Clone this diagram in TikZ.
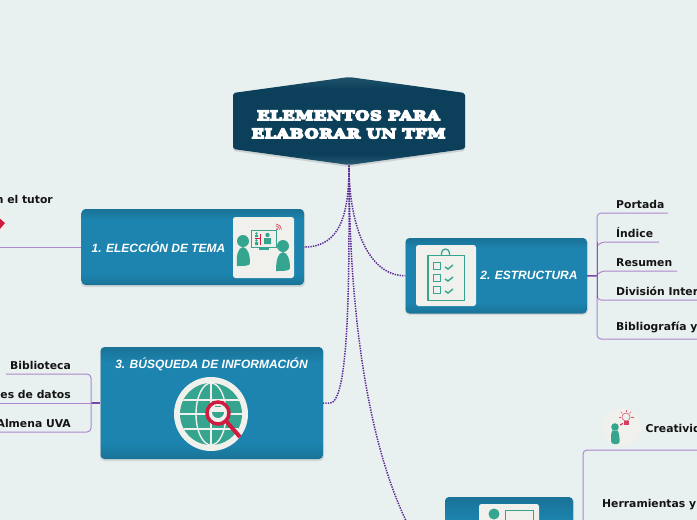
\documentclass[tikz,border=0pt]{standalone}
\usepackage{fontspec}
\setmainfont{Liberation Sans}
\newfontfamily\lblfont{DejaVu Sans}[BoldFont={DejaVu Sans Bold}]
\newfontfamily\titlefont{DejaVu Serif Bold}[LetterSpace=5,FakeStretch=1.25]
\definecolor{bgc}{HTML}{E9F1F0}
\definecolor{dotc}{HTML}{5E2A96}
\definecolor{linec}{HTML}{AC88CC}
\definecolor{darkl}{HTML}{7A45A8}
\definecolor{nblue}{HTML}{1C84AE}
\definecolor{nedge}{HTML}{1A7297}
\definecolor{tdark}{HTML}{0B3F5A}
\definecolor{ttop}{HTML}{2A5B72}
\definecolor{igreen}{HTML}{36A58F}
\definecolor{ired}{HTML}{CF1C3F}
\definecolor{iback}{HTML}{F0F1EC}
\pgfdeclareverticalshading{nodeshade}{100bp}{
  color(0bp)=(nedge); color(25bp)=(nedge); color(32bp)=(nblue); color(68bp)=(nblue); color(75bp)=(nedge); color(100bp)=(nedge)}
\pgfdeclareverticalshading{titleshade}{100bp}{
  color(0bp)=(ttop); color(25bp)=(ttop); color(31bp)=(tdark); color(68bp)=(tdark); color(75bp)=(ttop!70!tdark); color(100bp)=(ttop!70!tdark)}
\newcommand{\heavyon}{\special{pdf: code 1 1 1 RG 2 Tr 1.5 w}}
\newcommand{\heavyoff}{\special{pdf: code 0 Tr 1 w}}
\tikzset{
  card/.style={shading=nodeshade,rounded corners=4pt,inner sep=0pt,minimum width=#1},
  cardtext/.style={text=white,font=\fontsize{12}{14}\selectfont\bfseries\itshape,inner sep=0pt},
  leaf/.style={font=\lblfont\fontsize{10.8}{13}\selectfont\bfseries,text=black!92,inner sep=0pt,anchor=base west},
  leafr/.style={leaf,anchor=base east},
  dotline/.style={draw=dotc,line width=1.5pt,dash pattern=on 1.4pt off 1.1pt},
  thin branch/.style={draw=linec,line width=1pt,rounded corners=4pt},
  stem/.style={draw=darkl,line width=1.5pt},
  iconbox/.style={fill=iback,rounded corners=2.5pt},
}
\begin{document}
\begin{tikzpicture}[x=1pt,y=-1pt]
\useasboundingbox (0,0) rectangle (697,520);
\clip (0,0) rectangle (697,520);
\fill[bgc] (0,0) rectangle (697,520);

% shadows
\fill[black,opacity=.10,rounded corners=4pt] (81,210) rectangle (305,287);
\fill[black,opacity=.10,rounded corners=4pt] (405,239) rectangle (588,315);
\fill[black,opacity=.10,rounded corners=4pt] (100,348) rectangle (324,461);
\fill[black,opacity=.10,rounded corners=4pt] (445,498) rectangle (574,560);

% title
\fill[black,opacity=.12,rounded corners=2pt] (233,94) -- (349,78) -- (465,94) -- (465,151) -- (349,167) -- (233,151) -- cycle;
\shade[shading=titleshade,rounded corners=2pt] (233,93) -- (349,77) -- (465,93) -- (465,149) -- (349,165) -- (233,149) -- cycle;
\node[inner sep=0pt,minimum size=1pt] (root) at (349,165) {};
\node[text=white,font=\titlefont\fontsize{13}{18}\selectfont,align=center,inner sep=0pt] (titletext) at (348.5,124.5) {\heavyon ELEMENTOS PARA\heavyoff\\\heavyon ELABORAR UN TFM\heavyoff};

% nodes
\node[card=222.5pt,minimum height=76pt] (n1) at (192.75,247) {};
\node[card=181.5pt,minimum height=75.5pt] (n2) at (496.25,275.75) {};
\node[card=222.5pt,minimum height=112pt] (n3) at (211.75,403) {};
\node[card=128pt,minimum height=166pt] (n4) at (509,580) {};

\node[cardtext] (t1) at (158.5,247.5) {1. ELECCIÓN DE TEMA};
\node[cardtext] (t2) at (529,275.5) {2. ESTRUCTURA};
\node[cardtext] (t3) at (211.5,364.5) {3. BÚSQUEDA DE INFORMACIÓN};

% dotted connectors
\draw[dotline] (root.south) .. controls (349,215) and (340,247) .. (n1.east);
\draw[dotline] (root.south) .. controls (349,225) and (368,276) .. (n2.west);
\draw[dotline] (root.south) .. controls (349,250) and (351,403) .. (330,403) -- (n3.east);
\draw[dotline] (root.south) .. controls (349,320) and (370,500) .. (n4.west);

% node 1 left branch
\coordinate (c1) at (0,247);
\draw[draw=linec,line width=1pt] (c1) -- (n1.west);
\node[leafr] (l0) at (53,203) {n el tutor};
\fill[iback] (-14,222) circle (19);
\fill[ired] (-2,217) -- (5,223) -- (0,229) -- (-6,223) -- cycle;

% node 2 branches
\coordinate (b2) at (597,276);
\draw[stem] (n2.east) -- (b2);
\draw[thin branch] (668,213) -- (597,213) -- (597,300) -- (697,300);
\draw[thin branch] (659,242) -- (601,242) -- (597,246);
\draw[thin branch] (677,271) -- (601,271) -- (597,275);
\draw[thin branch] (597,296) -- (597,339) -- (697,339);
\draw[draw=darkl,line width=1pt,opacity=.8] (597,242) -- (597,298);
\node[leaf] (p1) at (616,208) {Portada};
\node[leaf] (p2) at (616,237) {Índice};
\node[leaf] (p3) at (616,266) {Resumen};
\node[leaf] (p4) at (616,295) {División Inter};
\node[leaf] (p5) at (616,330) {Bibliografía y};

% node 3 branches
\coordinate (b3) at (0,403);
\draw[stem,line width=1.2pt] (n3.west) -- (91,403);
\draw[thin branch] (6,374) -- (91,374) -- (91,432) -- (0,432);
\draw[draw=linec,line width=1pt] (91,403) -- (b3);
\node[leafr] (q1) at (71,369) {Biblioteca};
\node[leafr] (q2) at (71,398) {es de datos};
\node[leafr] (q3) at (71,427) {Almena UVA};

% node 4 branches
\draw[thin branch] (697,450) -- (583,450) -- (583,530);
\node[leaf] (r1) at (645.5,432) {Creativid};
\node[leaf] (r2) at (602,507) {Herramientas y};
\fill[iback] (622,427) circle (19);
\fill[igreen] (615,427) circle (3.8);
\fill[igreen,rounded corners=3pt] (611,433) .. controls (612,431) and (618,431) .. (619,433) -- (620,444) -- (611,444) -- cycle;
\draw[ired!75,line width=.6pt,fill=iback] (626,417) circle (4);
\foreach \a in {0,180,225,270,315} \draw[ired!75,line width=.5pt] (626,417) ++(\a:5) -- ++(\a:2.5);
\fill[ired!85] (623.5,421) rectangle (628.5,424.5);
\draw[ired!85,line width=1.2pt] (620,425) -- (623,423.5);

% icon 1
\fill[iconbox] (233,217) rectangle (294,278);
\fill[igreen] (243,241) circle (6);
\fill[igreen] (237,266) .. controls (236,255) and (238,248) .. (243,247) .. controls (248,248) and (250,255) .. (250,263) .. controls (250,266) and (245,266) .. (237,266) -- cycle;
\fill[igreen] (283,246) circle (6);
\fill[igreen] (276,271) .. controls (276,260) and (278,253) .. (283,252) .. controls (288,253) and (290,260) .. (290,268) .. controls (290,271) and (284,271) .. (276,271) -- cycle;
\draw[igreen,line width=1pt,fill=iback] (251.5,230) rectangle (276,247);
\fill[igreen] (259,247.5) rectangle (269,250);
\draw[ired,line width=.9pt] (254.5,238) -- (260,238) (260,234) -- (260,245);
\fill[igreen] (256.5,233.5) circle (1.3) (255,235) rectangle (258,237) (256.5,240.5) circle (1.3) (255,242) rectangle (258,245);
\fill[igreen] (267.5,235) circle (2.2) (264,238) rectangle (271,244);
\draw[ired!80,line width=.7pt] (276,224) arc (270:360:5.5) (276,226) arc (270:360:3.5);
\fill[ired!80] (277,229) circle (1);

% icon 2
\fill[iconbox] (416,245) rectangle (476,306);
\draw[igreen,line width=1.8pt] (428,255.5) rectangle (464.5,300.5);
\draw[igreen,line width=1.3pt] (441.5,255) -- (441.5,253) arc (180:360:4) -- (449.5,255);
\foreach \yy in {262,274,286} {
  \draw[igreen,line width=1pt] (433,\yy) rectangle (440.5,\yy+7.5);
  \draw[igreen,line width=1.4pt] (445,\yy+5) -- (448,\yy+7) -- (453,\yy+3);
}

% icon 3
\fill[iback] (211,414) circle (37);
\begin{scope}
\clip (211,414) circle (31);
\fill[igreen] (180,383) rectangle (242,445);
\draw[iback,line width=1.4pt] (211,383) -- (211,445);
\draw[iback,line width=1.4pt] (180,400) -- (242,400) (180,414) -- (242,414) (180,429) -- (242,429);
\draw[iback,line width=1.4pt] (211,414) ellipse (15 and 31);
\end{scope}
\draw[ired,line width=3.5pt,fill=iback] (218,413) circle (11);
\draw[ired,line width=4pt] (226.5,421.5) -- (240,437);
\fill[igreen] (212,412) arc (180:0:6) -- cycle;
\fill[igreen] (215,406) rectangle (221,407);

% icon 4
\begin{scope}
\clip (445,497) rectangle (573,520);
\fill[iconbox] (479,504) rectangle (539,560);
\fill[igreen] (494,514) circle (5.5);
\draw[igreen,line width=1.6pt] (505,510.5) -- (533,510.5);
\draw[igreen,line width=1pt] (505,510) rectangle (533,530);
\end{scope}
\end{tikzpicture}
\end{document}
